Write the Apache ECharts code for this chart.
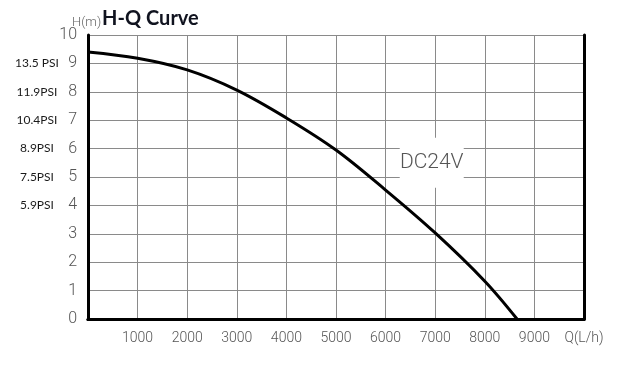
<!DOCTYPE html>
<html><head><meta charset="utf-8">
<script src="https://cdn.jsdelivr.net/npm/echarts@6/dist/echarts.min.js"></script>
<style>html,body{margin:0;padding:0;background:#fff}#c{width:635px;height:379px}</style>
</head><body><div id="c"></div>
<script>
const flowQ = [0, 1000, 2000, 3000, 4000, 5000, 6000, 7000, 8000, 8650];
const headH = [9.4, 9.18, 8.77, 8.06, 7.08, 5.95, 4.54, 3.03, 1.33, 0];
const xTicks = ['', '1000', '2000', '3000', '4000', '5000', '6000', '7000', '8000', '9000', 'Q(L/h)'];
const yTicks = ['0', '1', '2', '3', '4', '5', '6', '7', '8', '9', '10'];
const psiLabels = {4: '5.9PSI', 5: '7.5PSI', 6: '8.9PSI', 7: '10.4PSI', 8: '11.9PSI', 9: '13.5 PSI'};
const curveLabel = {text: 'DC24V', q: 6930, h: 5.5};

const cad = "Roboto";
const chart = echarts.init(document.getElementById('c'), null, {renderer: 'canvas'});
chart.setOption({
  animation: false,
  backgroundColor: '#fff',
  title: {
    left: 67, top: 4,
    text: '{a|H(m)}{b|H-Q Curve}',
    textStyle: {rich: {
      a: {fontFamily: cad, fontWeight: 300, fontSize: 13, color: '#666', verticalAlign: 'bottom', padding: [0, 1, 0, 0]},
      b: {fontFamily: 'Lato', fontWeight: 'bold', fontSize: 20, color: '#10131f'}
    }}
  },
  grid: {left: 88, right: 51, top: 35, bottom: 60},
  xAxis: [{
    type: 'value', min: 0, max: 10000, interval: 1000,
    axisLine: {show: true, lineStyle: {color: '#000', width: 3}},
    axisTick: {show: false},
    splitLine: {show: true, lineStyle: {color: '#8a8a8a', width: 1}},
    axisLabel: {margin: 12, fontFamily: cad, fontWeight: 300, fontSize: 14, color: '#555',
      formatter: v => xTicks[Math.round(v / 1000)]}
  }, {
    type: 'value', position: 'top', min: 0, max: 10000,
    axisLine: {show: true, lineStyle: {color: '#000', width: 3}},
    axisTick: {show: false}, axisLabel: {show: false}, splitLine: {show: false}
  }],
  yAxis: [{
    type: 'value', min: 0, max: 10, interval: 1,
    axisLine: {show: true, lineStyle: {color: '#000', width: 3}},
    axisTick: {show: false},
    splitLine: {show: true, lineStyle: {color: '#8a8a8a', width: 1}},
    axisLabel: {margin: 11, fontFamily: cad, fontWeight: 300, fontSize: 16, color: '#555',
      formatter: v => yTicks[Math.round(v)]}
  }, {
    type: 'value', position: 'left', min: 0, max: 10, interval: 1,
    axisLine: {show: false}, axisTick: {show: false}, splitLine: {show: false},
    axisLabel: {margin: 51, align: 'center', fontFamily: 'Lato', fontSize: 12, color: '#1a1a1a',
      formatter: v => psiLabels[Math.round(v)] || ''}
  }, {
    type: 'value', position: 'right', min: 0, max: 10,
    axisLine: {show: true, lineStyle: {color: '#000', width: 3}},
    axisTick: {show: false}, axisLabel: {show: false}, splitLine: {show: false}
  }],
  series: [{
    type: 'line',
    data: flowQ.map((q, i) => [q, headH[i]]),
    smooth: 0.35,
    showSymbol: false,
    lineStyle: {color: '#000', width: 3},
    markPoint: {
      symbol: 'rect', symbolSize: [64, 50],
      itemStyle: {color: '#fff'},
      label: {show: true, position: 'inside', formatter: curveLabel.text,
        fontFamily: cad, fontWeight: 300, fontSize: 21, color: '#555'},
      data: [{coord: [curveLabel.q, curveLabel.h]}]
    }
  }]
});
</script></body></html>
